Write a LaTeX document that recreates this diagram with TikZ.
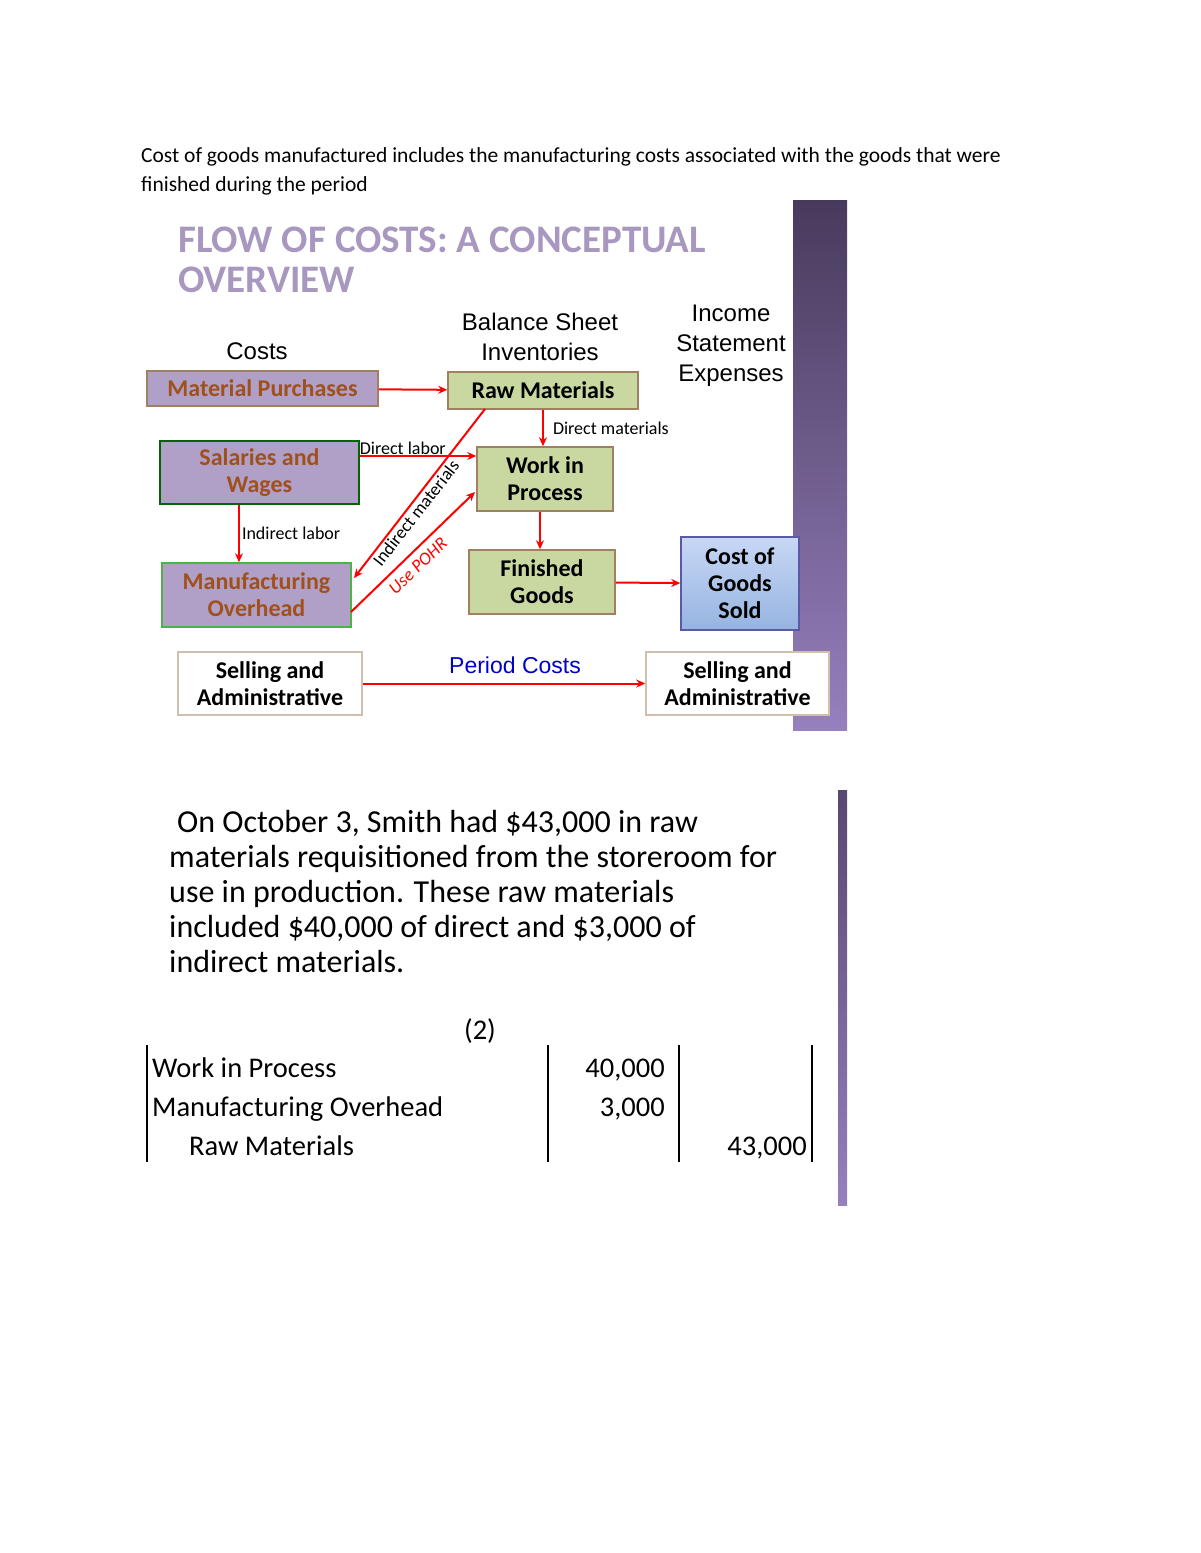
\documentclass[tikz,border=0pt]{standalone}
\usepackage{fontspec}
\setmainfont{Carlito}
\newfontfamily\arialf{Liberation Sans}
\usetikzlibrary{arrows.meta}
\definecolor{purp}{HTML}{B0A0C8}
\definecolor{brn}{HTML}{A0501A}
\definecolor{grn}{HTML}{C8D8A0}
\definecolor{bord}{HTML}{A08060}
\definecolor{ttl}{HTML}{A898C0}
\definecolor{stripA}{RGB}{72,58,92}
\definecolor{stripB}{RGB}{150,128,190}
\definecolor{blA}{RGB}{200,215,245}
\definecolor{blB}{RGB}{150,180,225}
\tikzset{
 box/.style={draw=bord,line width=1.5pt,minimum width=#1,align=center,inner sep=0pt,font=\fontsize{24}{27}\selectfont\bfseries},
 pbox/.style={box=#1,fill=purp,text=brn,draw=bord},
 gbox/.style={box=#1,fill=grn,text=black},
 wbox/.style={box=#1,fill=white,draw=bord!50},
 arr/.style={red,line width=2pt,-{Stealth[length=9pt,width=8pt]}},
 lbl/.style={font=\fontsize{18}{20}\selectfont,inner sep=1pt,text=black},
 hdr/.style={font=\arialf\fontsize{24}{30}\selectfont,align=center},
 body/.style={font=\fontsize{32}{35}\selectfont,anchor=base west,inner sep=0pt},
 cell/.style={font=\fontsize{28.5}{30}\selectfont,inner sep=0pt}
}
\begin{document}
\begin{tikzpicture}[x=1pt,y=-1pt]
\useasboundingbox[fill=white] (0,0) rectangle (1200,1553);
\node[anchor=base west,inner sep=0pt,font=\fontsize{21.5}{22}\selectfont] (t1) at (141,162) {Cost of goods manufactured includes the manufacturing costs associated with the goods that were};
\node[anchor=base west,inner sep=0pt,font=\fontsize{21.5}{22}\selectfont] (t2) at (141,191) {finished during the period};
% slide strip
\shade[top color=stripA, bottom color=stripB] (793,200) rectangle (847,730);
\node[anchor=base west,inner sep=0pt,text=ttl,font=\fontsize{39}{40}\selectfont\bfseries] (ti1) at (178,252) {FLOW OF COSTS: A CONCEPTUAL};
\node[anchor=base west,inner sep=0pt,text=ttl,font=\fontsize{39}{40}\selectfont\bfseries] (ti2) at (178,292) {OVERVIEW};
\node[hdr] (hc) at (257,351) {Costs};
\node[hdr] (hb) at (540,337) {Balance Sheet\\Inventories};
\node[hdr] (hi) at (731,346) {Income\\Statement\\Expenses};
\node[pbox=231pt,minimum height=35pt] (mp) at (262.5,388.5) {Material Purchases};
\node[gbox=190pt,minimum height=37pt] (rm) at (543,390.5) {Raw Materials};
\node[pbox=199pt,minimum height=63pt,draw=green!40!black] (sw) at (259.5,472.5) {Salaries and\\Wages};
\node[gbox=136pt,minimum height=64pt] (wip) at (545,479) {Work in\\Process};
\node[pbox=189pt,minimum height=64pt,draw=green!40!gray] (mo) at (256.5,595) {Manufacturing\\Overhead};
\node[gbox=146pt,minimum height=64pt] (fg) at (542,582) {Finished\\Goods};
\node[box=118pt,minimum height=93pt,top color=blA,bottom color=blB,draw=blue!30!gray] (cgs) at (740,583.5) {Cost of\\Goods\\Sold};
\node[wbox=184pt,minimum height=63pt] (sa1) at (270,683.5) {Selling and\\Administrative};
\node[wbox=183pt,minimum height=63pt] (sa2) at (737.5,683.5) {Selling and\\Administrative};
\node[font=\arialf\fontsize{23}{26}\selectfont,text=blue!80!black] (pc) at (515,665) {Period Costs};
\draw[arr] (mp) -- (rm);
\draw[arr] (rm.south -| wip.center) ++(-2,0) coordinate (a1) -- (a1 |- wip.north) node[midway,right=8pt,lbl]{Direct materials};
\draw[arr] (sw.east |- 0,456) -- (wip.west |- 0,456) node[pos=0.37,above,lbl,inner sep=0pt]{Direct labor};
\draw[arr] (sw.south -| 239,0) -- (mo.north -| 239,0) node[midway,right=1pt,lbl]{Indirect labor};
\coordinate (p1) at (485,409); \coordinate (p2) at (354,578);
\draw[arr] (p1) -- (p2);
\node[lbl,rotate=52] (im) at (416,513) {Indirect materials};
\coordinate (q1) at (351,612); \coordinate (q2) at (475,492);
\draw[arr] (q1) -- (q2);
\node[lbl,rotate=44,text=red] (up) at (418,566) {\itshape Use POHR};
\draw[arr] (wip.south -| 540,0) -- (fg.north -| 540,0);
\draw[arr] (fg) -- (cgs);
\draw[arr] (sa1) -- (sa2);
% bottom
\shade[top color=stripA!80!stripB, bottom color=stripB] (838,790) rectangle (847,1205);
\node[body] (b1) at (177,832) {On October 3, Smith had \$43,000 in raw};
\node[body] (b2) at (169,867) {materials requisitioned from the storeroom for};
\node[body] (b3) at (169,902) {use in production. These raw materials};
\node[body] (b4) at (169,937) {included \$40,000 of direct and \$3,000 of};
\node[body] (b5) at (169,972) {indirect materials.};
\node[cell] (n2) at (480,1031) {(2)};
\draw[line width=1.5pt] (147,1045) -- (147,1162) (548,1045) -- (548,1162) (679,1045) -- (679,1162) (812,1045) -- (812,1162);
\node[cell,anchor=base west] (r1) at (152,1077) {Work in Process};
\node[cell,anchor=base west] (r2) at (152,1116) {Manufacturing Overhead};
\node[cell,anchor=base west] (r3) at (189,1155) {Raw Materials};
\node[cell,anchor=base east] (v1) at (665,1077) {40,000};
\node[cell,anchor=base east] (v2) at (665,1116) {3,000};
\node[cell,anchor=base east] (v3) at (807,1155) {43,000};
\end{tikzpicture}
\end{document}
